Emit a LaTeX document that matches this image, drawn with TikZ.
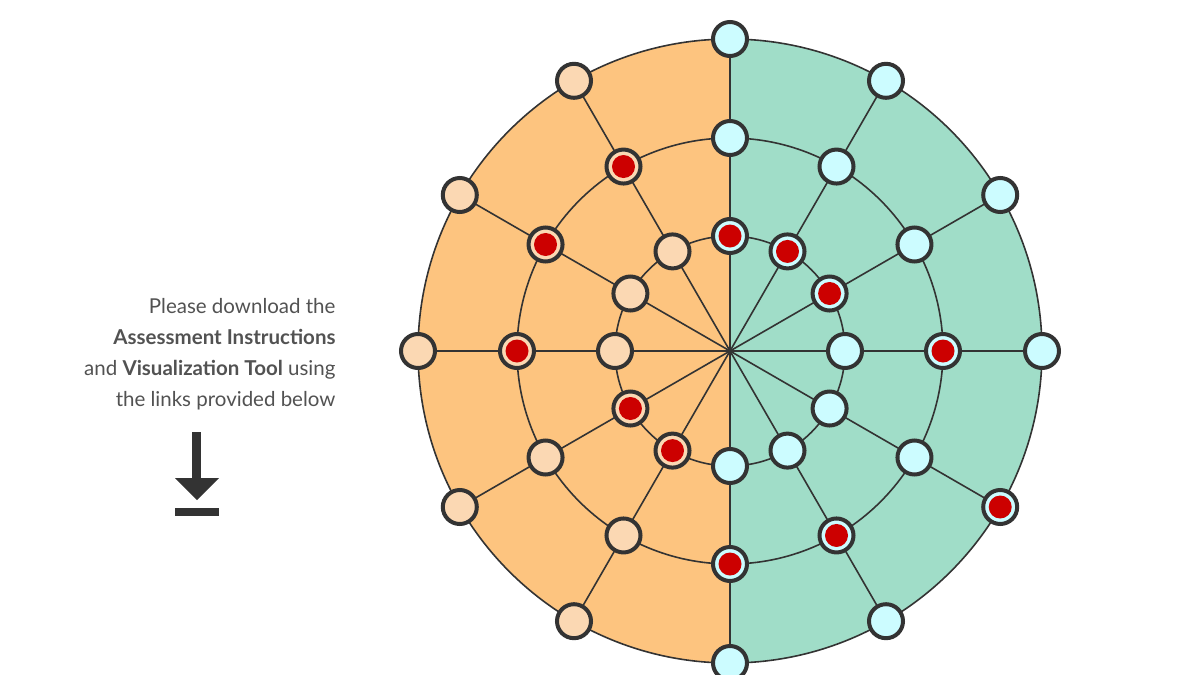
\documentclass[tikz,border=0pt]{standalone}
\usepackage{fontspec}
\setmainfont{Lato}
\definecolor{orangebg}{HTML}{FDC47F}
\definecolor{greenbg}{HTML}{A0DDC8}
\definecolor{peach}{HTML}{FBD8B3}
\definecolor{cyanpt}{HTML}{CCFCFF}
\definecolor{redpt}{HTML}{CC0000}
\definecolor{ink}{HTML}{333333}
\tikzset{
  pt/.style={circle,draw=ink,line width=4pt,minimum size=34pt,inner sep=0pt},
  leftpt/.style={pt,fill=peach},
  rightpt/.style={pt,fill=cyanpt},
  ring/.style={ink,line width=1.6pt},
  txt/.style={font=\fontsize{20.5}{31}\selectfont,color=ink!85,align=right,anchor=east}
}
\begin{document}
\begin{tikzpicture}[x=1pt,y=-1pt]
\useasboundingbox (0,0) rectangle (1200,675);
\coordinate (c) at (730,351);
% halves
\fill[orangebg] (c) circle (312);
\begin{scope}
  \clip (730,0) rectangle (1100,675);
  \fill[greenbg] (c) circle (312);
\end{scope}
% rings
\foreach \r in {312,213,115} \draw[ring] (c) circle (\r);
% spokes
\foreach \a in {0,30,...,330} \draw[ring] (c) -- ++(\a:312);
% points
\foreach \r/\nm in {115/in,213/mid,312/out}
  \foreach \a in {-90,-60,...,240} {
    \pgfmathsetmacro\cx{730+\r*cos(\a)}
    \pgfmathsetmacro\cy{351-\r*sin(\a)}
    \pgfmathtruncatemacro\side{(cos(\a)<-0.01)}
    \ifnum\side=1
      \node[leftpt] (\nm\a) at (\cx,\cy) {};
    \else
      \node[rightpt] (\nm\a) at (\cx,\cy) {};
    \fi
  }
% red markers
\foreach \p in {mid120,mid150,mid180,in90,in60,in30,mid0,in210,in240,out-30,mid-60,mid-90}
  \fill[redpt] (\p) circle (11.5);
% text
\node[txt] (msg) at (339,354) {Please download the\\\textbf{Assessment Instructions}\\and \textbf{Visualization Tool} using\\the links provided below};
% download icon
\fill[ink] (192,432) rectangle (201,482);
\fill[ink] (175,478) -- (219,478) -- (197,500) -- cycle;
\fill[ink] (175,508) rectangle (219,516);
\end{tikzpicture}
\end{document}
